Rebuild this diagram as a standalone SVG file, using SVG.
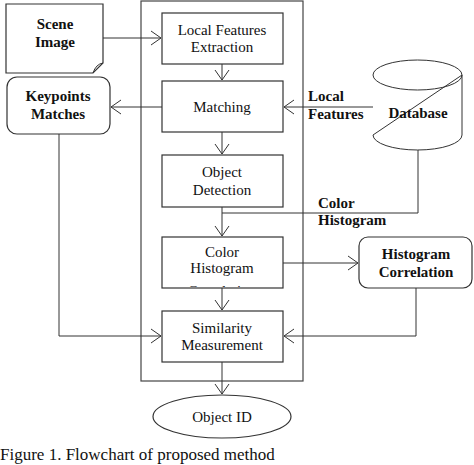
<svg xmlns="http://www.w3.org/2000/svg" width="474" height="465" viewBox="0 0 474 465">
<style>
.b{fill:#fff;stroke:#333;stroke-width:1.2}
.c{fill:none;stroke:#333;stroke-width:1}
.t{font-family:"Liberation Serif",serif;font-size:15px;fill:#111;text-anchor:middle}
.tb{font-family:"Liberation Serif",serif;font-size:15px;font-weight:bold;fill:#111;text-anchor:middle}
.lb{font-family:"Liberation Serif",serif;font-size:15px;font-weight:bold;fill:#111}
</style>
<defs>
<marker id="a" markerWidth="12" markerHeight="16" refX="11" refY="8" orient="auto" markerUnits="userSpaceOnUse">
<path d="M1,1 L11,8 L1,15" fill="none" stroke="#333" stroke-width="1"/>
</marker>
<clipPath id="chclip"><rect x="162" y="237" width="121" height="50"/></clipPath>
</defs>
<rect id="container" x="141" y="1" width="162" height="380" fill="none" stroke="#444" stroke-width="1.2"/>
<g id="connectors">
<path class="c" d="M103,38 L161,38" marker-end="url(#a)"/>
<path class="c" d="M222,64 L222,80" marker-end="url(#a)"/>
<path class="c" d="M162,107 L111,107" marker-end="url(#a)"/>
<path class="c" d="M373,107 L284,107" marker-end="url(#a)"/>
<path class="c" d="M222,132 L222,154" marker-end="url(#a)"/>
<path class="c" d="M222,207 L222,236" marker-end="url(#a)"/>
<path class="c" d="M418,150 L418,213 L222,213"/>
<path class="c" d="M283,263 L358,263" marker-end="url(#a)"/>
<path class="c" d="M222,288 L222,310" marker-end="url(#a)"/>
<path class="c" d="M59,134 L59,336 L161,336" marker-end="url(#a)"/>
<path class="c" d="M416,288 L416,336 L284,336" marker-end="url(#a)"/>
<path class="c" d="M222,362 L222,394" marker-end="url(#a)"/>
</g>
<g id="scene-image">
<path class="b" d="M6,4 L103,4 L103,63 L93,73 L6,73 Z"/>
<path class="c" d="M103,63 Q96,64 93,73"/>
<text class="tb" x="55" y="29">Scene</text>
<text class="tb" x="55" y="47">Image</text>
</g>
<g id="keypoints-matches">
<rect class="b" x="7" y="77" width="103" height="57" rx="10"/>
<text class="tb" x="58" y="101">Keypoints</text>
<text class="tb" x="58" y="119">Matches</text>
</g>
<g id="local-features-extraction">
<rect class="b" x="162" y="13" width="121" height="51"/>
<text class="t" x="222" y="35">Local Features</text>
<text class="t" x="222" y="52">Extraction</text>
</g>
<g id="matching">
<rect class="b" x="162" y="81" width="121" height="51"/>
<text class="t" x="222" y="112">Matching</text>
</g>
<g id="object-detection">
<rect class="b" x="162" y="155" width="121" height="52"/>
<text class="t" x="222" y="177">Object</text>
<text class="t" x="222" y="195">Detection</text>
</g>
<g id="color-histogram">
<rect class="b" x="162" y="237" width="121" height="51"/>
<text class="t" x="222" y="257">Color</text>
<text class="t" x="222" y="273">Histogram</text>
<text class="t" x="222" y="296" clip-path="url(#chclip)">Correlation</text>
</g>
<g id="similarity-measurement">
<rect class="b" x="162" y="311" width="121" height="51"/>
<text class="t" x="222" y="333">Similarity</text>
<text class="t" x="222" y="350">Measurement</text>
</g>
<g id="object-id">
<ellipse class="b" cx="222" cy="416.5" rx="69" ry="21.5"/>
<text class="t" x="222" y="422">Object ID</text>
</g>
<g id="database">
<ellipse class="c" cx="417.5" cy="75" rx="44.5" ry="15"/>
<path class="c" d="M462,75 L462,135 A44.5,15 0 0 1 373,135 L462,75"/>
<text class="tb" x="418" y="118">Database</text>
</g>
<g id="histogram-correlation">
<rect class="b" x="359" y="237" width="113" height="51" rx="9"/>
<text class="tb" x="416" y="259">Histogram</text>
<text class="tb" x="416" y="277">Correlation</text>
</g>
<g id="labels">
<text class="lb" x="308" y="101">Local</text>
<text class="lb" x="308" y="119">Features</text>
<text class="lb" x="318" y="208">Color</text>
<text class="lb" x="318" y="225">Histogram</text>
</g>
<text id="caption" x="0" y="460" font-family="Liberation Serif,serif" font-size="17" fill="#111">Figure 1. Flowchart of proposed method</text>
</svg>
